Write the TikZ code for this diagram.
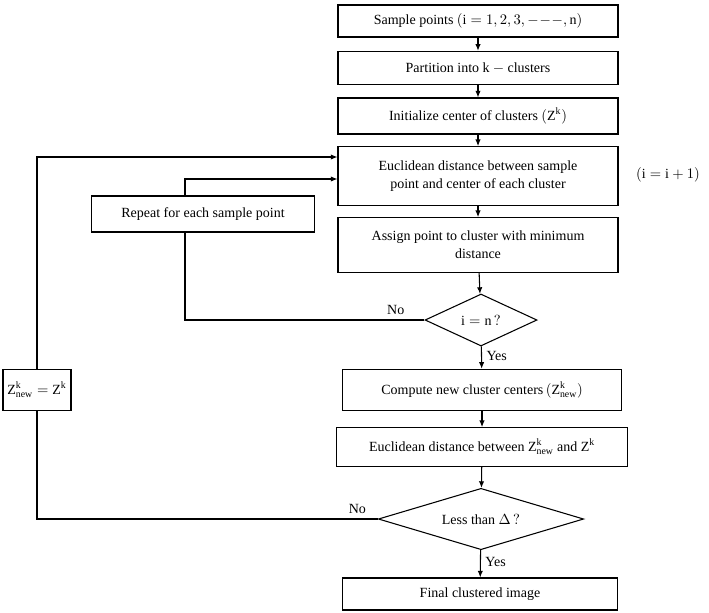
\documentclass[tikz,border=0pt]{standalone}
\usepackage{fontspec}
\setmainfont{Liberation Serif}
\usetikzlibrary{shapes.geometric,arrows.meta}
\tikzset{
  procbox/.style={draw,line width=0.8pt,fill=white,inner sep=1pt,align=center,font=\fontsize{10.5}{13.5}\selectfont},
  testbox/.style={draw,line width=0.8pt,fill=white,diamond,aspect=2.6,inner sep=0pt,font=\fontsize{10.5}{12}\selectfont},
  flow/.style={line width=0.8pt,-{Latex[length=5pt,width=4pt]}},
  lbl/.style={font=\fontsize{10.5}{12}\selectfont}
}
\begin{document}
\begin{tikzpicture}[x=0.75pt,y=-0.75pt]
  \useasboundingbox (0,0) rectangle (709,612);
  % main column
  \node[procbox,minimum width=210pt,minimum height=24pt] (sample) at (478,21) {Sample points $(\mathrm{i}=1,2,3,-\!-\!-,\mathrm{n})$};
  \node[procbox,minimum width=210pt,minimum height=25pt] (part) at (478,68) {Partition into $\mathrm{k}-{}$clusters};
  \node[procbox,minimum width=210pt,minimum height=27pt] (init) at (478,116) {Initialize center of clusters $(\mathrm{Z}^{\mathrm{k}})$};
  \node[procbox,minimum width=210pt,minimum height=44pt] (eucl) at (478,176) {Euclidean distance between sample\\point and center of each cluster};
  \node[procbox,minimum width=210pt,minimum height=41pt] (assign) at (478,245) {Assign point to cluster with minimum\\distance};
  \node[testbox,minimum width=84pt,minimum height=39pt] (last) at (481,320) {$\mathrm{i}=\mathrm{n}\,?$};
  \node[procbox,minimum width=209pt,minimum height=31pt] (newc) at (482,390) {Compute new cluster centers$\,(\mathrm{Z}^{\mathrm{k}}_{\mathrm{new}})$};
  \node[procbox,minimum width=218pt,minimum height=29pt] (diff) at (482,447) {Euclidean distance between $\mathrm{Z}^{\mathrm{k}}_{\mathrm{new}}$ and $\mathrm{Z}^{\mathrm{k}}$};
  \node[testbox,minimum width=154pt,minimum height=46pt] (conv) at (481,519) {Less than $\Delta\,?$};
  \node[procbox,minimum width=206pt,minimum height=24pt] (final) at (480,594) {Final clustered image};
  % side nodes
  \node[procbox,minimum width=167pt,minimum height=27pt] (repeat) at (203,214) {Repeat for each sample point};
  \node[procbox,minimum width=51pt,minimum height=31pt] (update) at (37,390) {$\mathrm{Z}^{\mathrm{k}}_{\mathrm{new}}=\mathrm{Z}^{\mathrm{k}}$};
  \node[lbl] (incr) at (668,175) {$(\mathrm{i}=\mathrm{i}+1)$};
  % arrows
  \draw[flow] (sample) -- (part);
  \draw[flow] (part) -- (init);
  \draw[flow] (init) -- (eucl);
  \draw[flow] (eucl) -- (assign);
  \draw[flow] (assign) -- (last);
  \draw[flow] (last) -- node[lbl,right,pos=0.45] {Yes} (newc);
  \draw[flow] (newc) -- (diff);
  \draw[flow] (diff) -- (conv);
  \draw[flow] (conv) -- node[lbl,right,pos=0.45] {Yes} (final);
  % loops
  \draw[flow] (last.west) -- node[lbl,above,pos=0.12] {No} (185,320) -- (185,179) -- (eucl.west |- 0,179);
  \node[procbox,minimum width=167pt,minimum height=27pt] at (repeat) {Repeat for each sample point};
  \draw[flow] (conv.west) -- node[lbl,above,pos=0.06] {No} (37,519) -- (37,157) -- (eucl.west |- 0,157);
  \node[procbox,minimum width=51pt,minimum height=31pt] at (update) {$\mathrm{Z}^{\mathrm{k}}_{\mathrm{new}}=\mathrm{Z}^{\mathrm{k}}$};
\end{tikzpicture}
\end{document}
